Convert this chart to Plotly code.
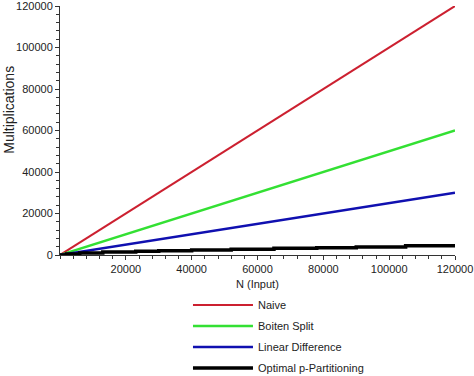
import plotly.graph_objects as go

# Data
n_input = [0, 20000, 40000, 60000, 80000, 100000, 120000]
naive = [0, 20000, 40000, 60000, 80000, 100000, 120000]
boiten_split = [0, 10000, 20000, 30000, 40000, 50000, 60000]
linear_diff = [0, 5000, 10000, 15000, 20000, 25000, 30000]

opt_x = [0, 2000, 6000, 13000, 23000, 30000, 40000, 52000, 65000, 78000, 90000, 105000, 120000]
opt_y = [0, 500, 1000, 1400, 1800, 2100, 2400, 2800, 3200, 3500, 3900, 4400, 4400]

x_ticks = [20000, 40000, 60000, 80000, 100000, 120000]
y_ticks = [0, 20000, 40000, 60000, 80000, 100000, 120000]

fig = go.Figure()
fig.add_trace(go.Scatter(x=n_input, y=naive, mode="lines", name="Naive", legendgroup="a",
                         line=dict(color="#cc2030", width=2)))
fig.add_trace(go.Scatter(x=n_input, y=boiten_split, mode="lines", name="Boiten Split",
                         legendgroup="b", line=dict(color="#33e033", width=2.5)))
fig.add_trace(go.Scatter(x=n_input, y=linear_diff, mode="lines", name="Linear Difference",
                         legendgroup="c", line=dict(color="#1010b0", width=2.5)))
fig.add_trace(go.Scatter(x=opt_x, y=opt_y, mode="lines", name="Optimal p-Partitioning",
                         legendgroup="d", line=dict(color="black", width=3.5, shape="hv")))

axis_common = dict(
    showgrid=False, zeroline=False, showline=True, linecolor="#333", linewidth=1,
    ticks="outside", ticklen=4, tickcolor="#333", automargin=False,
    ticklabeloverflow="allow",
    tickfont=dict(family="Arial, Liberation Sans", size=11, color="#222"),
    minor=dict(ticks="outside", ticklen=3, dtick=4000, tickcolor="#333"),
)

fig.update_layout(
    width=474, height=376,
    margin=dict(l=60, r=19, t=6, b=121, autoexpand=False),
    paper_bgcolor="white", plot_bgcolor="white",
    font=dict(family="Arial, Liberation Sans", size=11, color="#222"),
    showlegend=True,
    legend=dict(x=0.324, y=-0.1426, xanchor="left", yanchor="top",
                bgcolor="rgba(0,0,0,0)", font=dict(size=11), itemwidth=60,
                tracegroupgap=2),
    annotations=[
        dict(text="N (Input)", xref="paper", yref="paper", x=0.5, y=-0.117,
             xanchor="center", yanchor="middle", showarrow=False,
             font=dict(size=11, color="#222")),
        dict(text="Multiplications", xref="paper", yref="paper", x=-0.128, y=0.585,
             xanchor="center", yanchor="middle", showarrow=False, textangle=-90,
             font=dict(size=14, color="#222")),
    ],
)
fig.update_xaxes(range=[0, 120000], tickmode="array", tickvals=x_ticks,
                 ticktext=[str(v) for v in x_ticks], **axis_common)
fig.update_yaxes(range=[0, 120000], tickmode="array", tickvals=y_ticks,
                 ticktext=[str(v) for v in y_ticks], **axis_common)

fig.write_html("out.html", config={"displayModeBar": False},
               post_script="document.body.style.margin='0';")
